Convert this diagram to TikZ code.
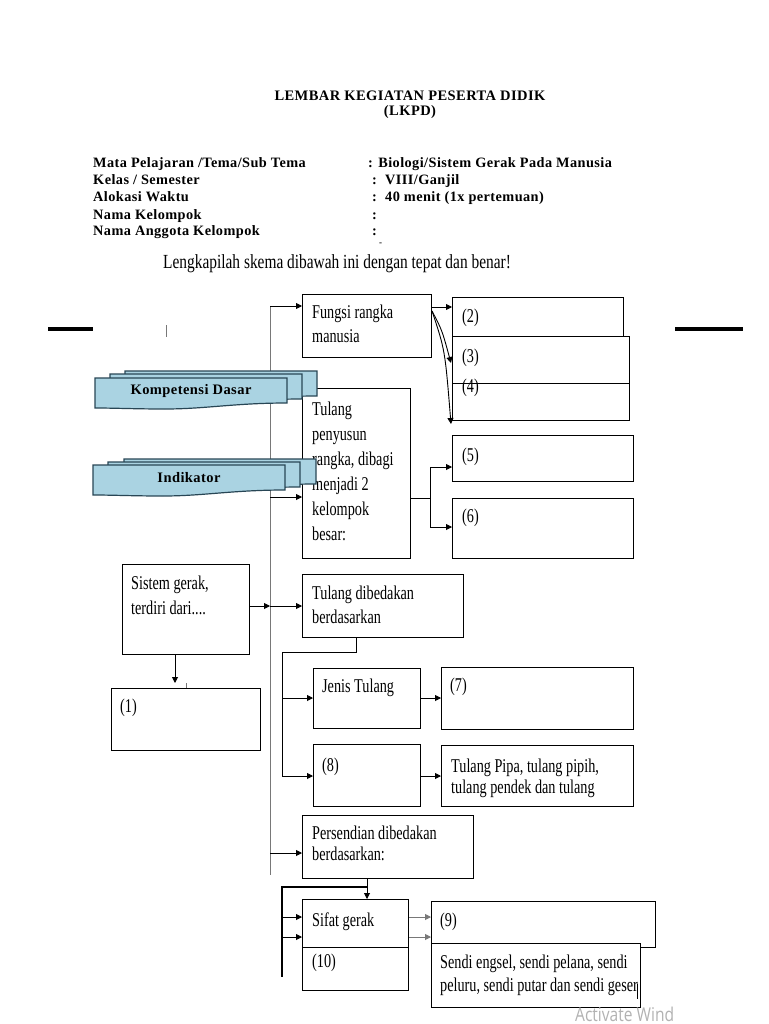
\documentclass[tikz,border=0pt]{standalone}
\usepackage{fontspec}
\setmainfont{Liberation Serif}
\newfontfamily\cond[FakeStretch=0.77]{Liberation Serif}
\newfontfamily\condb[FakeStretch=0.73]{Liberation Serif}
\newfontfamily\hdr[LetterSpace=3]{Liberation Serif}
\newfontfamily\wmfont[FakeStretch=0.82]{Open Sans}
\usetikzlibrary{arrows.meta}
\definecolor{bannerblue}{RGB}{170,211,226}
\definecolor{bannerline}{RGB}{40,70,85}
\definecolor{lgray}{RGB}{120,120,120}
\begin{document}
\begin{tikzpicture}[x=1pt,y=-1pt,
  box/.style={draw=black, line width=1.1pt, fill=white, anchor=north west, inner sep=0pt},
  txt/.style={anchor=north west, inner sep=0pt, align=left, font=\condb\fontsize{19.5}{24}\selectfont},
  hd/.style={anchor=base west, inner sep=0pt, font=\hdr\bfseries\fontsize{14.3}{17}\selectfont},
  arr/.style={draw=black, line width=0.9pt, -{Triangle[length=6pt,width=6pt]}},
  garr/.style={draw=lgray, line width=0.9pt, -{Triangle[length=6pt,width=6pt]}},
  conn/.style={draw=black, line width=0.9pt},
  gline/.style={draw=lgray, line width=0.9pt},
  thickbar/.style={draw=black, line width=4pt},
  bannerpath/.style={fill=bannerblue, draw=bannerline, line width=1.2pt},
  ban/.pic={\path[bannerpath] (0,0) -- (192,0) -- (192,25) .. controls (140,25) and (110,31) .. (70,31) .. controls (40,31) and (20,30) .. (0,30) -- cycle;},
  bantxt/.style={inner sep=0pt, font=\hdr\bfseries\fontsize{14.5}{17}\selectfont}
]
\useasboundingbox[fill=white] (0,0) rectangle (768,1024);

% ---------- header ----------
\node[inner sep=0pt, font=\hdr\bfseries\fontsize{14.5}{17}\selectfont] (title) at (410,96) {LEMBAR KEGIATAN PESERTA DIDIK};
\node[inner sep=0pt, font=\hdr\bfseries\fontsize{14.5}{17}\selectfont] (lkpd) at (410,112) {(LKPD)};
\node[hd] (l1) at (93,168) {Mata Pelajaran /Tema/Sub Tema};
\node[hd] (l2) at (93,185) {Kelas / Semester};
\node[hd] (l3) at (93,202) {Alokasi Waktu};
\node[hd] (l4) at (93,219) {Nama Kelompok};
\node[hd] (l5) at (93,236) {Nama Anggota Kelompok};
\node[hd] (c1) at (368,168) {: Biologi/Sistem Gerak Pada Manusia};
\node[hd] (c2) at (372,185) {:};
\node[hd] (v2) at (385,185) {VIII/Ganjil};
\node[hd] (c3) at (372,202) {:};
\node[hd] (v3) at (385,202) {40 menit (1x pertemuan)};
\node[hd] (c4) at (372,219) {:};
\node[hd] (c5) at (372,236) {:};
\node[hd, font=\hdr\bfseries\fontsize{9}{10}\selectfont] (dash) at (379,245) {-};
\node[anchor=base west, inner sep=0pt, font=\cond\fontsize{20}{22}\selectfont] (instr) at (163,268) {Lengkapilah skema dibawah ini dengan tepat dan benar!};

% ---------- decorative bars and ticks ----------
\draw[thickbar] (48,329) -- (93,329);
\draw[thickbar] (675,329) -- (743,329);
\draw[gline] (166,325) -- (166,337);

% ---------- main vertical line ----------
\coordinate (vtop) at (270,306);
\coordinate (vbot) at (270,875);
\draw[gline] (vtop) -- (vbot);

% ---------- boxes ----------
\node[box, minimum width=129, minimum height=63] (fungsi) at (302,294) {};
\node[txt] (fungsiT) at (312,305) {Fungsi rangka\\manusia};
\node[box, minimum width=171, minimum height=39] (b2) at (452,297) {};
\node[box, minimum width=177, minimum height=47] (b3) at (452,336) {};
\node[box, minimum width=177, minimum height=37] (b4) at (452,383) {};
\node[box, minimum width=181, minimum height=46] (b5) at (452,435) {};
\node[box, minimum width=181, minimum height=60] (b6) at (452,498) {};
\node[txt] (t2) at (462,309) {(2)};
\node[txt] (t3) at (462,349) {(3)};
\node[txt] (t4) at (462,379) {(4)};
\node[txt] (t5) at (462,448) {(5)};
\node[txt] (t6) at (462,509) {(6)};

\node[box, minimum width=108, minimum height=170] (penyusun) at (302,388) {};
\node[txt, font=\condb\fontsize{19.5}{25}\selectfont] (penyusunT) at (312,402) {Tulang\\penyusun\\rangka, dibagi\\menjadi 2\\kelompok\\besar:};

\node[box, minimum width=127, minimum height=90] (sistem) at (122,564) {};
\node[txt, font=\condb\fontsize{19.5}{25}\selectfont] (sistemT) at (131,576) {Sistem gerak,\\terdiri dari....};
\node[box, minimum width=149, minimum height=62] (b1) at (111,688) {};
\node[txt] (t1) at (120,699) {(1)};

\node[box, minimum width=161, minimum height=63] (dibedakan) at (302,574) {};
\node[txt] (dibedakanT) at (312,586) {Tulang dibedakan\\berdasarkan};
\node[box, minimum width=107, minimum height=60] (jenis) at (313,668) {};
\node[txt] (jenisT) at (322,679) {Jenis Tulang};
\node[box, minimum width=107, minimum height=62] (b8) at (313,744) {};
\node[txt] (t8) at (322,758) {(8)};
\node[box, minimum width=192, minimum height=62] (b7) at (441,667) {};
\node[txt] (t7) at (450,678) {(7)};
\node[box, minimum width=192, minimum height=61] (pipa) at (441,745) {};
\node[txt, font=\condb\fontsize{19.5}{21}\selectfont] (pipaT) at (451,759) {Tulang Pipa, tulang pipih,\\tulang pendek dan tulang};

\node[box, minimum width=171, minimum height=63] (persendian) at (302,815) {};
\node[txt, font=\condb\fontsize{19.5}{21}\selectfont] (persendianT) at (312,826) {Persendian dibedakan\\berdasarkan:};
\node[box, minimum width=106, minimum height=48] (sifat) at (302,899) {};
\node[txt] (sifatT) at (312,913) {Sifat gerak};
\node[box, minimum width=106, minimum height=43] (b10) at (302,947) {};
\node[txt] (t10) at (312,954) {(10)};
\node[box, minimum width=224, minimum height=46] (b9) at (431,901) {};
\node[txt] (t9) at (440,913) {(9)};
\node[box, minimum width=209, minimum height=64] (sendi) at (431,943) {};
\node[txt, font=\condb\fontsize{19.5}{23}\selectfont] (sendiT) at (440,955) {Sendi engsel, sendi pelana, sendi\\peluru, sendi putar dan sendi geser};
\coordinate (cur1) at (637,984);
\coordinate (cur2) at (637,999);
\draw[line width=0.8pt] (cur1) -- (cur2);

% ---------- connectors ----------
\draw[arr] (vtop) -- (vtop -| fungsi.west);
\coordinate (f0) at (431,307);
\coordinate (f1) at (432,311);
\coordinate (a3) at (451,363);
\coordinate (a4) at (451,424);
\draw[arr] (f0) -- (f0 -| b2.west);
\draw[arr] (f1) .. controls (442,330) .. (a3);
\draw[arr] (f1) .. controls (445,350) .. (a4);

\coordinate (vp) at (270,497);
\draw[arr] (vp) -- (vp -| penyusun.west);
\coordinate (p0) at (430,498);
\coordinate (p5) at (430,467);
\coordinate (p6) at (430,527);
\draw[conn] (penyusun.east |- p0) -- (p0);
\draw[conn] (p5) -- (p6);
\draw[arr] (p5) -- (p5 -| b5.west);
\draw[arr] (p6) -- (p6 -| b6.west);

\coordinate (vs) at (270,606);
\draw[arr] (sistem.east |- vs) -- (vs);
\draw[arr] (vs) -- (vs -| dibedakan.west);
\coordinate (sd) at (175,683);
\draw[arr] (sd |- sistem.south) -- (sd);
\draw[gline] (186,683) -- (186,688);

\coordinate (d1) at (356,652);
\coordinate (d2) at (282,652);
\coordinate (d3) at (282,698);
\coordinate (d4) at (282,776);
\draw[conn] (d1 |- dibedakan.south) -- (d1) -- (d2) -- (d4);
\draw[arr] (d3) -- (d3 -| jenis.west);
\draw[arr] (d4) -- (d4 -| b8.west);
\draw[arr] (jenis.east |- d3) -- (d3 -| b7.west);
\draw[arr] (b8.east |- d4) -- (d4 -| pipa.west);

\coordinate (vq) at (270,853);
\draw[arr] (vq) -- (vq -| persendian.west);
\coordinate (q1) at (367,887);
\coordinate (q2) at (282,887);
\coordinate (q3) at (282,917);
\coordinate (q4) at (282,937);
\coordinate (q5) at (282,977);
\draw[arr] (q1 |- persendian.south) -- (q1 |- sifat.north);
\draw[line width=1.8pt] (q1) -- (q2) -- (q5);
\draw[arr] (q3) -- (q3 -| sifat.west);
\draw[arr] (q4) -- (q4 -| sifat.west);
\draw[garr] (sifat.east |- q3) -- (q3 -| b9.west);
\draw[garr] (sifat.east |- q4) -- (q4 -| b9.west);

% ---------- banners ----------
\pic at (125,371) {ban};
\pic at (110,374) {ban};
\pic at (95,378) {ban};
\node[bantxt] (kd) at (191,391) {Kompetensi Dasar};
\pic at (124,459) {ban};
\pic at (108,462) {ban};
\pic at (93,465) {ban};
\node[bantxt] (ind) at (189,478) {Indikator};

% ---------- watermark ----------
\node[anchor=base west, inner sep=0pt, text=black!30, font=\wmfont\fontsize{19}{22}\selectfont] (wm) at (575,1021) {Activate Wind};
\end{tikzpicture}
\end{document}
